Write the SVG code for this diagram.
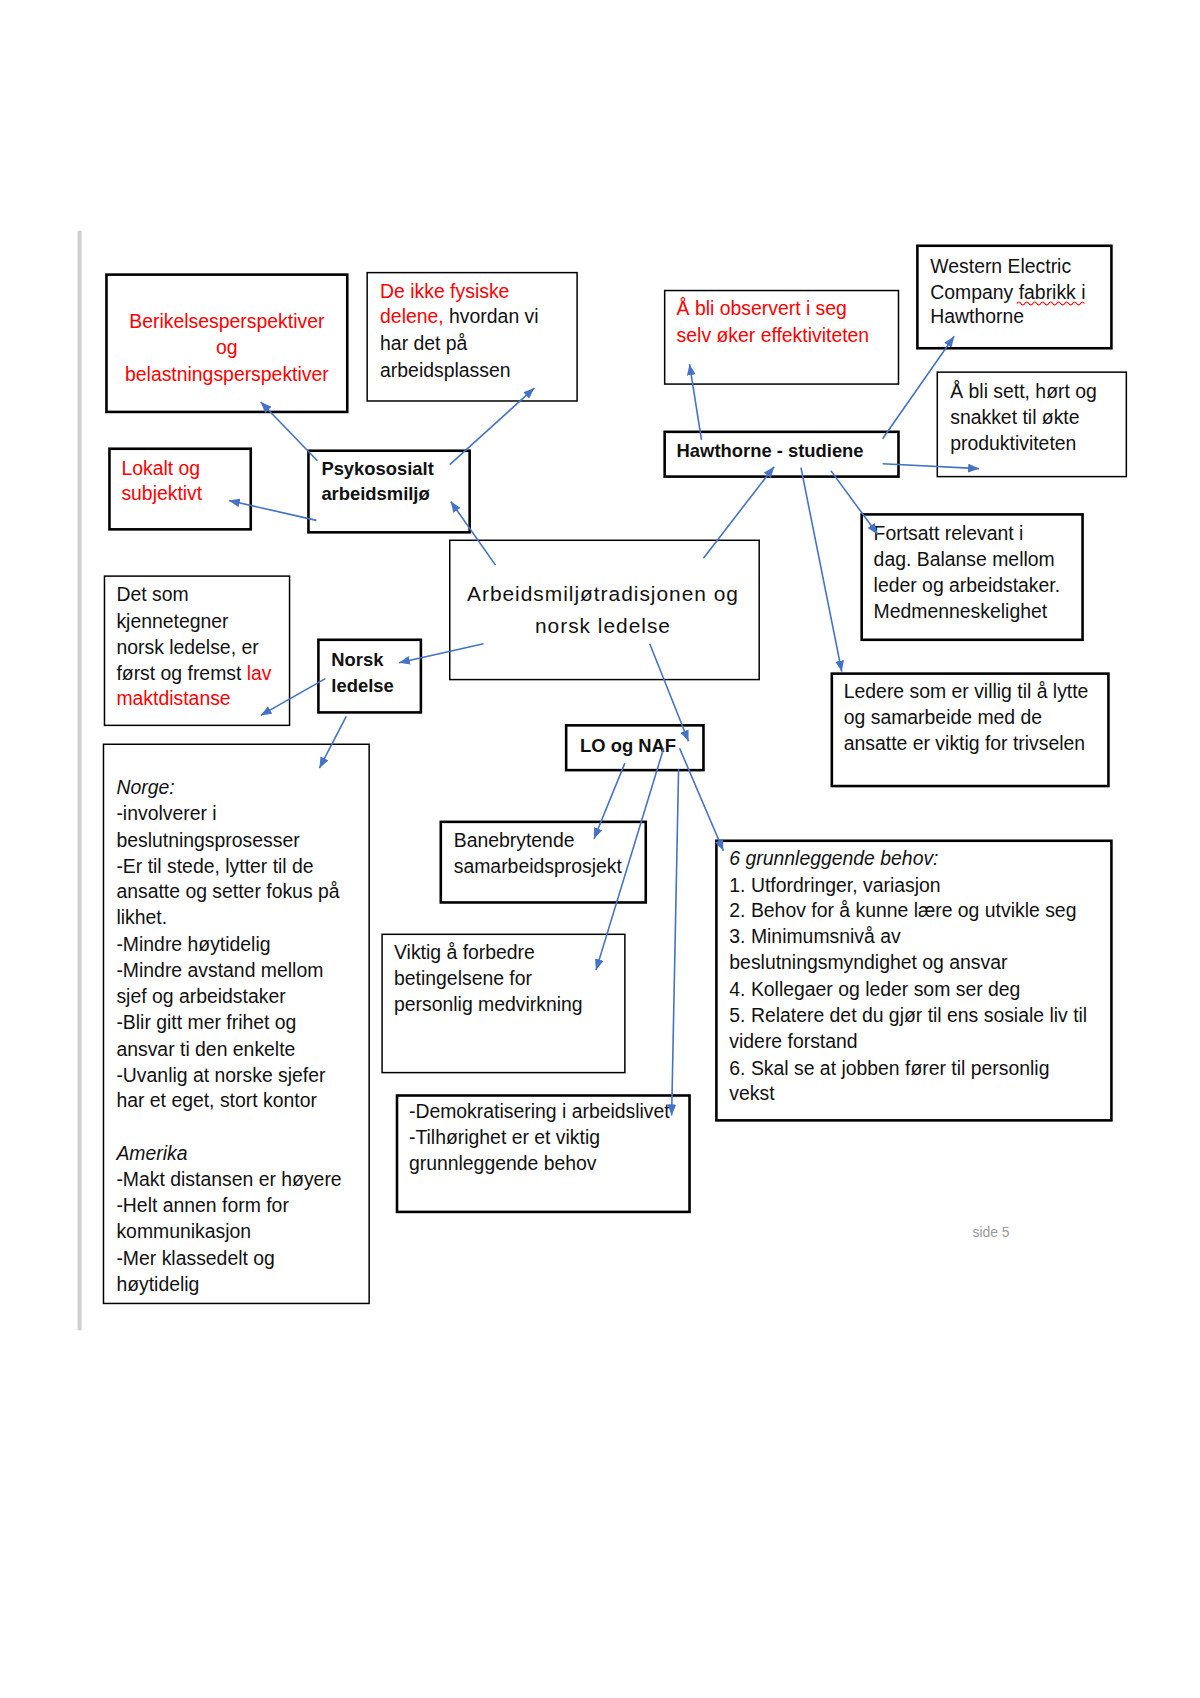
<svg xmlns="http://www.w3.org/2000/svg" width="1200" height="1698" viewBox="0 0 1200 1698">
<style>
.box{fill:#fff;stroke:#000;stroke-width:1.5}
.thick{stroke-width:2.6}
text{font-family:"Liberation Sans",Arial,sans-serif;font-size:19.5px;fill:#111}
.red{fill:#ff0000}
.b{font-weight:bold;font-size:18.5px}
.it{font-style:italic}
.big{font-size:21px;letter-spacing:1px}
.conn line{stroke:#4472C4;stroke-width:1.6;marker-end:url(#ah)}
</style>
<defs>
<marker id="ah" viewBox="0 0 10 8" refX="10" refY="4" markerWidth="11" markerHeight="9" markerUnits="userSpaceOnUse" orient="auto">
<path d="M0,0 L10,4 L0,8 z" fill="#4472C4"/>
</marker>
</defs>
<rect width="1200" height="1698" fill="#fff"/>
<g transform="scale(0.995)">
<line x1="80" y1="232" x2="80" y2="1337" stroke="#cfcfcf" stroke-width="4"/>

<g id="berikelse">
<rect class="box thick" x="107" y="276" width="242" height="138"/>
<text class="red" text-anchor="middle" x="228" y="330">Berikelsesperspektiver</text>
<text class="red" text-anchor="middle" x="228" y="356">og</text>
<text class="red" text-anchor="middle" x="228" y="383">belastningsperspektiver</text>
</g>

<g id="ikke-fysiske">
<rect class="box" x="369" y="274" width="211" height="129"/>
<text x="382" y="299"><tspan class="red">De ikke fysiske</tspan></text>
<text x="382" y="325"><tspan class="red">delene,</tspan> hvordan vi</text>
<text x="382" y="352">har det på</text>
<text x="382" y="379">arbeidsplassen</text>
</g>

<g id="lokalt">
<rect class="box thick" x="110" y="451" width="142" height="81"/>
<text class="red" x="122" y="477">Lokalt og</text>
<text class="red" x="122" y="503">subjektivt</text>
</g>

<g id="psykososialt">
<rect class="box thick" x="310" y="453" width="162" height="82"/>
<text class="b" x="323" y="477">Psykososialt</text>
<text class="b" x="323" y="503">arbeidsmiljø</text>
</g>

<g id="arbeidsmiljo">
<rect class="box" x="452" y="543" width="311" height="140"/>
<text class="big" text-anchor="middle" x="606" y="604">Arbeidsmiljøtradisjonen og</text>
<text class="big" text-anchor="middle" x="606" y="636">norsk ledelse</text>
</g>

<g id="det-som">
<rect class="box" x="105" y="579" width="186" height="150"/>
<text x="117" y="604">Det som</text>
<text x="117" y="631">kjennetegner</text>
<text x="117" y="657">norsk ledelse, er</text>
<text x="117" y="683">først og fremst <tspan class="red">lav</tspan></text>
<text class="red" x="117" y="709">maktdistanse</text>
</g>

<g id="norsk-ledelse">
<rect class="box thick" x="320" y="643" width="103" height="73"/>
<text class="b" x="333" y="669">Norsk</text>
<text class="b" x="333" y="695">ledelse</text>
</g>

<g id="norge">
<rect class="box" x="104" y="748" width="267" height="562"/>
<text class="it" x="117" y="798">Norge:</text>
<text x="117" y="824">-involverer i</text>
<text x="117" y="851">beslutningsprosesser</text>
<text x="117" y="877">-Er til stede, lytter til de</text>
<text x="117" y="903">ansatte og setter fokus på</text>
<text x="117" y="929">likhet.</text>
<text x="117" y="956">-Mindre høytidelig</text>
<text x="117" y="982">-Mindre avstand mellom</text>
<text x="117" y="1008">sjef og arbeidstaker</text>
<text x="117" y="1034">-Blir gitt mer frihet og</text>
<text x="117" y="1061">ansvar ti den enkelte</text>
<text x="117" y="1087">-Uvanlig at norske sjefer</text>
<text x="117" y="1113">har et eget, stort kontor</text>
<text class="it" x="117" y="1166">Amerika</text>
<text x="117" y="1192">-Makt distansen er høyere</text>
<text x="117" y="1218">-Helt annen form for</text>
<text x="117" y="1244">kommunikasjon</text>
<text x="117" y="1271">-Mer klassedelt og</text>
<text x="117" y="1297">høytidelig</text>
</g>

<g id="lo-naf">
<rect class="box thick" x="569" y="729" width="138" height="45"/>
<text class="b" x="583" y="756">LO og NAF</text>
</g>

<g id="banebrytende">
<rect class="box thick" x="443" y="826" width="206" height="81"/>
<text x="456" y="851">Banebrytende</text>
<text x="456" y="877">samarbeidsprosjekt</text>
</g>

<g id="viktig">
<rect class="box" x="384" y="939" width="244" height="139"/>
<text x="396" y="964">Viktig å forbedre</text>
<text x="396" y="990">betingelsene for</text>
<text x="396" y="1016">personlig medvirkning</text>
</g>

<g id="demokratisering">
<rect class="box thick" x="399" y="1101" width="294" height="117"/>
<text x="411" y="1124">-Demokratisering i arbeidslivet</text>
<text x="411" y="1150">-Tilhørighet er et viktig</text>
<text x="411" y="1176">grunnleggende behov</text>
</g>

<g id="behov">
<rect class="box thick" x="720" y="845" width="397" height="281"/>
<text class="it" x="733" y="869">6 grunnleggende behov:</text>
<text x="733" y="896">1. Utfordringer, variasjon</text>
<text x="733" y="922">2. Behov for å kunne lære og utvikle seg</text>
<text x="733" y="948">3. Minimumsnivå av</text>
<text x="733" y="974">beslutningsmyndighet og ansvar</text>
<text x="733" y="1001">4. Kollegaer og leder som ser deg</text>
<text x="733" y="1027">5. Relatere det du gjør til ens sosiale liv til</text>
<text x="733" y="1053">videre forstand</text>
<text x="733" y="1080">6. Skal se at jobben fører til personlig</text>
<text x="733" y="1106">vekst</text>
</g>

<g id="observert">
<rect class="box" x="668" y="292" width="235" height="94"/>
<text class="red" x="680" y="317">Å bli observert i seg</text>
<text class="red" x="680" y="344">selv øker effektiviteten</text>
</g>

<g id="western">
<rect class="box thick" x="922" y="247" width="195" height="103"/>
<text x="935" y="274">Western Electric</text>
<text x="935" y="300">Company fabrikk i</text>
<text x="935" y="325">Hawthorne</text>
<path d="M1022,305 q2,-3 4,0 t4,0 t4,0 t4,0 t4,0 t4,0 t4,0 t4,0 t4,0 t4,0 t4,0 t4,0 t4,0 t4,0 t4,0 t4,0 t4,0" fill="none" stroke="#ff0000" stroke-width="1.2"/>
</g>

<g id="sett-hort">
<rect class="box" x="942" y="374" width="190" height="105"/>
<text x="955" y="400">Å bli sett, hørt og</text>
<text x="955" y="426">snakket til økte</text>
<text x="955" y="452">produktiviteten</text>
</g>

<g id="hawthorne">
<rect class="box thick" x="668" y="434" width="235" height="45"/>
<text class="b" x="680" y="459">Hawthorne - studiene</text>
</g>

<g id="fortsatt">
<rect class="box thick" x="866" y="517" width="222" height="126"/>
<text x="878" y="543">Fortsatt relevant i</text>
<text x="878" y="569">dag. Balanse mellom</text>
<text x="878" y="595">leder og arbeidstaker.</text>
<text x="878" y="621">Medmenneskelighet</text>
</g>

<g id="ledere">
<rect class="box thick" x="836" y="677" width="278" height="113"/>
<text x="848" y="702">Ledere som er villig til å lytte</text>
<text x="848" y="728">og samarbeide med de</text>
<text x="848" y="754">ansatte er viktig for trivselen</text>
</g>

<text x="996" y="1243" text-anchor="middle" style="font-size:14px;fill:#9a9a9a">side 5</text>

<g id="connectors" class="conn">
<line x1="319" y1="463" x2="262" y2="404"/>
<line x1="452" y1="467" x2="537" y2="390"/>
<line x1="318" y1="523" x2="230" y2="503"/>
<line x1="498" y1="568" x2="453" y2="504"/>
<line x1="707" y1="561" x2="778" y2="469"/>
<line x1="486" y1="647" x2="401" y2="666"/>
<line x1="327" y1="682" x2="262" y2="719"/>
<line x1="348" y1="720" x2="321" y2="772"/>
<line x1="653" y1="647" x2="692" y2="745"/>
<line x1="705" y1="442" x2="693" y2="366"/>
<line x1="887" y1="441" x2="959" y2="338"/>
<line x1="887" y1="466" x2="984" y2="471"/>
<line x1="835" y1="473" x2="882" y2="537"/>
<line x1="805" y1="470" x2="846" y2="675"/>
<line x1="628" y1="767" x2="597" y2="843"/>
<line x1="667" y1="752" x2="599" y2="975"/>
<line x1="682" y1="773" x2="675" y2="1121"/>
<line x1="683" y1="752" x2="727" y2="855"/>
</g>
</g>
</svg>
